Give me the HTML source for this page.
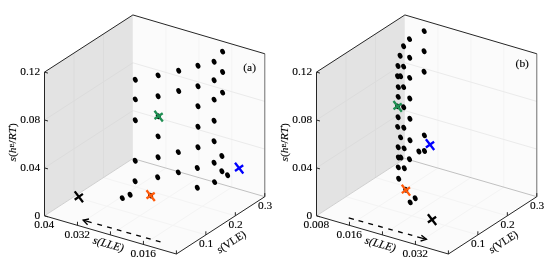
<!DOCTYPE html>
<html><head><meta charset="utf-8"><style>
html,body{margin:0;padding:0;background:#fff;}
svg{display:block;}
text{font-family:"Liberation Serif","Times New Roman",serif;font-size:11.4px;fill:#000;stroke:#000;stroke-width:0.12px;}
</style></head><body>
<svg width="550" height="268" viewBox="0 0 550 268">
<rect width="550" height="268" fill="#fff"/>
<g transform="translate(0,0)">
<polygon points="44.5,215.8 132.9,158.5 132.9,14.95 44.5,72.1" fill="#e3e3e3"/>
<polygon points="132.9,158.5 264.8,196.7 264.8,53.75 132.9,14.95" fill="#fbfbfb"/>
<polygon points="44.5,215.8 176.4,254 264.8,196.7 132.9,158.5" fill="#fbfbfb"/>
<line x1="73.97" y1="196.7" x2="73.97" y2="53.05" stroke="#dcdcdc" stroke-width="1"/>
<line x1="103.43" y1="177.6" x2="103.43" y2="34" stroke="#dcdcdc" stroke-width="1"/>
<line x1="44.5" y1="167.9" x2="132.9" y2="110.65" stroke="#dcdcdc" stroke-width="1"/>
<line x1="44.5" y1="120" x2="132.9" y2="62.8" stroke="#dcdcdc" stroke-width="1"/>
<line x1="165.88" y1="168.05" x2="165.88" y2="24.65" stroke="#f4f4f4" stroke-width="1"/>
<line x1="198.85" y1="177.6" x2="198.85" y2="34.35" stroke="#f4f4f4" stroke-width="1"/>
<line x1="231.83" y1="187.15" x2="231.83" y2="44.05" stroke="#f4f4f4" stroke-width="1"/>
<line x1="132.9" y1="110.65" x2="264.8" y2="149.05" stroke="#ebebeb" stroke-width="1"/>
<line x1="132.9" y1="62.8" x2="264.8" y2="101.4" stroke="#ebebeb" stroke-width="1"/>
<line x1="77.47" y1="225.35" x2="165.88" y2="168.05" stroke="#f4f4f4" stroke-width="1"/>
<line x1="110.45" y1="234.9" x2="198.85" y2="177.6" stroke="#f4f4f4" stroke-width="1"/>
<line x1="143.43" y1="244.45" x2="231.83" y2="187.15" stroke="#f4f4f4" stroke-width="1"/>
<line x1="73.97" y1="196.7" x2="205.87" y2="234.9" stroke="#f4f4f4" stroke-width="1"/>
<line x1="103.43" y1="177.6" x2="235.33" y2="215.8" stroke="#f4f4f4" stroke-width="1"/>
<line x1="44.5" y1="215.8" x2="132.9" y2="158.5" stroke="#d0d0d0" stroke-width="1"/>
<line x1="132.9" y1="158.5" x2="264.8" y2="196.7" stroke="#c0c0c0" stroke-width="1"/>
<line x1="264.8" y1="196.7" x2="264.8" y2="53.75" stroke="#6e6e6e" stroke-width="1"/>
<polyline points="44.5,215.8 44.5,72.1 132.9,14.95 264.8,53.75" fill="none" stroke="#262626" stroke-width="1" stroke-linejoin="miter"/>
<polyline points="44.5,215.8 176.4,254 264.8,196.7" fill="none" stroke="#262626" stroke-width="1"/>
<line x1="44.5" y1="215.8" x2="47.96" y2="216.8" stroke="#262626" stroke-width="1"/>
<line x1="44.5" y1="167.9" x2="47.96" y2="168.9" stroke="#262626" stroke-width="1"/>
<line x1="44.5" y1="120" x2="47.96" y2="121" stroke="#262626" stroke-width="1"/>
<line x1="44.5" y1="72.1" x2="47.96" y2="73.1" stroke="#262626" stroke-width="1"/>
<line x1="77.47" y1="225.35" x2="77.47" y2="221.75" stroke="#262626" stroke-width="1"/>
<line x1="110.45" y1="234.9" x2="110.45" y2="231.3" stroke="#262626" stroke-width="1"/>
<line x1="143.43" y1="244.45" x2="143.43" y2="240.85" stroke="#262626" stroke-width="1"/>
<line x1="176.4" y1="254" x2="176.4" y2="250.4" stroke="#262626" stroke-width="1"/>
<line x1="205.87" y1="234.9" x2="205.87" y2="231.3" stroke="#262626" stroke-width="1"/>
<line x1="235.33" y1="215.8" x2="235.33" y2="212.2" stroke="#262626" stroke-width="1"/>
<line x1="264.8" y1="196.7" x2="264.8" y2="193.1" stroke="#262626" stroke-width="1"/>
<ellipse cx="135.3" cy="79.8" rx="2.3" ry="3.0" transform="rotate(-25 135.3 79.8)" fill="#000"/>
<ellipse cx="158.1" cy="75.4" rx="2.3" ry="3.0" transform="rotate(-25 158.1 75.4)" fill="#000"/>
<ellipse cx="178.7" cy="70.7" rx="2.3" ry="3.0" transform="rotate(-25 178.7 70.7)" fill="#000"/>
<ellipse cx="198" cy="65.7" rx="2.3" ry="3.0" transform="rotate(-25 198 65.7)" fill="#000"/>
<ellipse cx="214.1" cy="61.7" rx="2.3" ry="3.0" transform="rotate(-25 214.1 61.7)" fill="#000"/>
<ellipse cx="222.6" cy="51.6" rx="2.3" ry="3.0" transform="rotate(-25 222.6 51.6)" fill="#000"/>
<ellipse cx="222.6" cy="72" rx="2.3" ry="3.0" transform="rotate(-25 222.6 72)" fill="#000"/>
<ellipse cx="214.1" cy="80.3" rx="2.3" ry="3.0" transform="rotate(-25 214.1 80.3)" fill="#000"/>
<ellipse cx="198" cy="86.3" rx="2.3" ry="3.0" transform="rotate(-25 198 86.3)" fill="#000"/>
<ellipse cx="178.7" cy="91" rx="2.3" ry="3.0" transform="rotate(-25 178.7 91)" fill="#000"/>
<ellipse cx="158.1" cy="96.2" rx="2.3" ry="3.0" transform="rotate(-25 158.1 96.2)" fill="#000"/>
<ellipse cx="135.3" cy="99.4" rx="2.3" ry="3.0" transform="rotate(-25 135.3 99.4)" fill="#000"/>
<ellipse cx="222.6" cy="92.6" rx="2.3" ry="3.0" transform="rotate(-25 222.6 92.6)" fill="#000"/>
<ellipse cx="214.1" cy="99.6" rx="2.3" ry="3.0" transform="rotate(-25 214.1 99.6)" fill="#000"/>
<ellipse cx="198" cy="106.2" rx="2.3" ry="3.0" transform="rotate(-25 198 106.2)" fill="#000"/>
<ellipse cx="135.3" cy="120.3" rx="2.3" ry="3.0" transform="rotate(-25 135.3 120.3)" fill="#000"/>
<ellipse cx="158.3" cy="116.2" rx="2.3" ry="3.0" transform="rotate(-25 158.3 116.2)" fill="#000"/>
<ellipse cx="198" cy="126.8" rx="2.3" ry="3.0" transform="rotate(-25 198 126.8)" fill="#000"/>
<ellipse cx="214.1" cy="120.7" rx="2.3" ry="3.0" transform="rotate(-25 214.1 120.7)" fill="#000"/>
<ellipse cx="158.1" cy="136.4" rx="2.3" ry="3.0" transform="rotate(-25 158.1 136.4)" fill="#000"/>
<ellipse cx="214.1" cy="141.2" rx="2.3" ry="3.0" transform="rotate(-25 214.1 141.2)" fill="#000"/>
<ellipse cx="198" cy="147.2" rx="2.3" ry="3.0" transform="rotate(-25 198 147.2)" fill="#000"/>
<ellipse cx="178.3" cy="152.1" rx="2.3" ry="3.0" transform="rotate(-25 178.3 152.1)" fill="#000"/>
<ellipse cx="221.9" cy="156" rx="2.3" ry="3.0" transform="rotate(-25 221.9 156)" fill="#000"/>
<ellipse cx="158.1" cy="157.2" rx="2.3" ry="3.0" transform="rotate(-25 158.1 157.2)" fill="#000"/>
<ellipse cx="135.2" cy="160.7" rx="2.3" ry="3.0" transform="rotate(-25 135.2 160.7)" fill="#000"/>
<ellipse cx="214.1" cy="162.7" rx="2.3" ry="3.0" transform="rotate(-25 214.1 162.7)" fill="#000"/>
<ellipse cx="197.3" cy="168" rx="2.3" ry="3.0" transform="rotate(-25 197.3 168)" fill="#000"/>
<ellipse cx="178.3" cy="172.4" rx="2.3" ry="3.0" transform="rotate(-25 178.3 172.4)" fill="#000"/>
<ellipse cx="221.9" cy="171.2" rx="2.3" ry="3.0" transform="rotate(-25 221.9 171.2)" fill="#000"/>
<ellipse cx="227.6" cy="175.2" rx="2.3" ry="3.0" transform="rotate(-25 227.6 175.2)" fill="#000"/>
<ellipse cx="157.7" cy="177.3" rx="2.3" ry="3.0" transform="rotate(-25 157.7 177.3)" fill="#000"/>
<ellipse cx="135.1" cy="181.3" rx="2.3" ry="3.0" transform="rotate(-25 135.1 181.3)" fill="#000"/>
<ellipse cx="214.6" cy="182.1" rx="2.3" ry="3.0" transform="rotate(-25 214.6 182.1)" fill="#000"/>
<ellipse cx="197.3" cy="187.7" rx="2.3" ry="3.0" transform="rotate(-25 197.3 187.7)" fill="#000"/>
<ellipse cx="130.1" cy="194.8" rx="2.3" ry="3.0" transform="rotate(-25 130.1 194.8)" fill="#000"/>
<ellipse cx="122.3" cy="198.1" rx="2.3" ry="3.0" transform="rotate(-25 122.3 198.1)" fill="#000"/>
<ellipse cx="150.6" cy="195.6" rx="2.3" ry="3.0" transform="rotate(-25 150.6 195.6)" fill="#000"/>
<path d="M154.5 110.7L162.8 121.5M154.5 119L162.7 113.2" stroke="#1f8e52" stroke-width="2.3" fill="none"/>
<path d="M146.5 190.2L154.8 201M146.5 198.5L154.7 192.7" stroke="#ff5a0a" stroke-width="2.3" fill="none"/>
<path d="M235 162.7L243.3 173.5M235 171L243.2 165.2" stroke="#0000ff" stroke-width="2.3" fill="none"/>
<path d="M74.7 191.4L83 202.2M74.7 199.7L82.9 193.9" stroke="#000000" stroke-width="2.3" fill="none"/>
<g stroke="#000" stroke-width="1.35"><line x1="97.3" y1="224.14" x2="102" y2="225.46"/><line x1="107.1" y1="226.89" x2="111.8" y2="228.21"/><line x1="116.9" y1="229.65" x2="121.4" y2="230.91"/><line x1="126.4" y1="232.32" x2="131.1" y2="233.64"/><line x1="136.2" y1="235.07" x2="140.9" y2="236.39"/><line x1="146" y1="237.82" x2="150.7" y2="239.15"/><line x1="155.8" y1="240.58" x2="160.5" y2="241.9"/><line x1="83.2" y1="220.18" x2="91.6" y2="222.54"/><polyline fill="none" stroke-linejoin="miter" points="89,219 83.2,220.18 87.6,224.7"/></g>
<text x="40.2" y="218.8" text-anchor="end">0</text>
<text x="40.2" y="170.9" text-anchor="end">0.04</text>
<text x="40.2" y="123" text-anchor="end">0.08</text>
<text x="40.2" y="75.1" text-anchor="end">0.12</text>
<text x="44.3" y="228" text-anchor="middle">0.04</text>
<text x="77.27" y="237.55" text-anchor="middle">0.032</text>
<text x="143.23" y="256.65" text-anchor="middle">0.016</text>
<text x="206.17" y="246.9" text-anchor="middle">0.1</text>
<text x="235.63" y="227.8" text-anchor="middle">0.2</text>
<text x="265.1" y="208.7" text-anchor="middle">0.3</text>
<text x="243.3" y="71.4">(a)</text>
<text transform="translate(16.2,161.5) rotate(-90)"><tspan font-style="italic">s</tspan>(<tspan font-style="italic">h</tspan><tspan font-size="6.8" dy="-1.9">E</tspan><tspan dy="1.9">/</tspan><tspan font-style="italic">RT</tspan>)</text>
<text transform="translate(92.3,243.2) rotate(15.8)" font-style="italic">s(LLE)</text>
<text transform="translate(219.4,253.7) rotate(-33)" style="font-size:10.9px"><tspan font-style="italic">s</tspan>(VLE)</text>
</g>
<g transform="translate(272,0)">
<polygon points="44.5,215.8 132.9,158.5 132.9,14.95 44.5,72.1" fill="#e3e3e3"/>
<polygon points="132.9,158.5 264.8,196.7 264.8,53.75 132.9,14.95" fill="#fbfbfb"/>
<polygon points="44.5,215.8 176.4,254 264.8,196.7 132.9,158.5" fill="#fbfbfb"/>
<line x1="73.97" y1="196.7" x2="73.97" y2="53.05" stroke="#dcdcdc" stroke-width="1"/>
<line x1="103.43" y1="177.6" x2="103.43" y2="34" stroke="#dcdcdc" stroke-width="1"/>
<line x1="44.5" y1="167.9" x2="132.9" y2="110.65" stroke="#dcdcdc" stroke-width="1"/>
<line x1="44.5" y1="120" x2="132.9" y2="62.8" stroke="#dcdcdc" stroke-width="1"/>
<line x1="165.88" y1="168.05" x2="165.88" y2="24.65" stroke="#f4f4f4" stroke-width="1"/>
<line x1="198.85" y1="177.6" x2="198.85" y2="34.35" stroke="#f4f4f4" stroke-width="1"/>
<line x1="231.83" y1="187.15" x2="231.83" y2="44.05" stroke="#f4f4f4" stroke-width="1"/>
<line x1="132.9" y1="110.65" x2="264.8" y2="149.05" stroke="#ebebeb" stroke-width="1"/>
<line x1="132.9" y1="62.8" x2="264.8" y2="101.4" stroke="#ebebeb" stroke-width="1"/>
<line x1="77.47" y1="225.35" x2="165.88" y2="168.05" stroke="#f4f4f4" stroke-width="1"/>
<line x1="110.45" y1="234.9" x2="198.85" y2="177.6" stroke="#f4f4f4" stroke-width="1"/>
<line x1="143.43" y1="244.45" x2="231.83" y2="187.15" stroke="#f4f4f4" stroke-width="1"/>
<line x1="73.97" y1="196.7" x2="205.87" y2="234.9" stroke="#f4f4f4" stroke-width="1"/>
<line x1="103.43" y1="177.6" x2="235.33" y2="215.8" stroke="#f4f4f4" stroke-width="1"/>
<line x1="44.5" y1="215.8" x2="132.9" y2="158.5" stroke="#d0d0d0" stroke-width="1"/>
<line x1="132.9" y1="158.5" x2="264.8" y2="196.7" stroke="#c0c0c0" stroke-width="1"/>
<line x1="264.8" y1="196.7" x2="264.8" y2="53.75" stroke="#6e6e6e" stroke-width="1"/>
<polyline points="44.5,215.8 44.5,72.1 132.9,14.95 264.8,53.75" fill="none" stroke="#262626" stroke-width="1" stroke-linejoin="miter"/>
<polyline points="44.5,215.8 176.4,254 264.8,196.7" fill="none" stroke="#262626" stroke-width="1"/>
<line x1="44.5" y1="215.8" x2="47.96" y2="216.8" stroke="#262626" stroke-width="1"/>
<line x1="44.5" y1="167.9" x2="47.96" y2="168.9" stroke="#262626" stroke-width="1"/>
<line x1="44.5" y1="120" x2="47.96" y2="121" stroke="#262626" stroke-width="1"/>
<line x1="44.5" y1="72.1" x2="47.96" y2="73.1" stroke="#262626" stroke-width="1"/>
<line x1="77.47" y1="225.35" x2="77.47" y2="221.75" stroke="#262626" stroke-width="1"/>
<line x1="110.45" y1="234.9" x2="110.45" y2="231.3" stroke="#262626" stroke-width="1"/>
<line x1="143.43" y1="244.45" x2="143.43" y2="240.85" stroke="#262626" stroke-width="1"/>
<line x1="176.4" y1="254" x2="176.4" y2="250.4" stroke="#262626" stroke-width="1"/>
<line x1="205.87" y1="234.9" x2="205.87" y2="231.3" stroke="#262626" stroke-width="1"/>
<line x1="235.33" y1="215.8" x2="235.33" y2="212.2" stroke="#262626" stroke-width="1"/>
<line x1="264.8" y1="196.7" x2="264.8" y2="193.1" stroke="#262626" stroke-width="1"/>
<ellipse cx="152.2" cy="31.1" rx="2.3" ry="3.0" transform="rotate(-25 152.2 31.1)" fill="#000"/>
<ellipse cx="137.5" cy="39.1" rx="2.3" ry="3.0" transform="rotate(-25 137.5 39.1)" fill="#000"/>
<ellipse cx="131.6" cy="46.3" rx="2.3" ry="3.0" transform="rotate(-25 131.6 46.3)" fill="#000"/>
<ellipse cx="152.1" cy="51.3" rx="2.3" ry="3.0" transform="rotate(-25 152.1 51.3)" fill="#000"/>
<ellipse cx="128.1" cy="55.8" rx="2.3" ry="3.0" transform="rotate(-25 128.1 55.8)" fill="#000"/>
<ellipse cx="137.7" cy="57.7" rx="2.3" ry="3.0" transform="rotate(-25 137.7 57.7)" fill="#000"/>
<ellipse cx="126" cy="66" rx="2.3" ry="3.0" transform="rotate(-25 126 66)" fill="#000"/>
<ellipse cx="131.6" cy="66.6" rx="2.3" ry="3.0" transform="rotate(-25 131.6 66.6)" fill="#000"/>
<ellipse cx="152.1" cy="71.8" rx="2.3" ry="3.0" transform="rotate(-25 152.1 71.8)" fill="#000"/>
<ellipse cx="125.6" cy="76.3" rx="2.3" ry="3.0" transform="rotate(-25 125.6 76.3)" fill="#000"/>
<ellipse cx="128.6" cy="76.3" rx="2.3" ry="3.0" transform="rotate(-25 128.6 76.3)" fill="#000"/>
<ellipse cx="137.7" cy="77.9" rx="2.3" ry="3.0" transform="rotate(-25 137.7 77.9)" fill="#000"/>
<ellipse cx="126.3" cy="87.1" rx="2.3" ry="3.0" transform="rotate(-25 126.3 87.1)" fill="#000"/>
<ellipse cx="131.6" cy="87.1" rx="2.3" ry="3.0" transform="rotate(-25 131.6 87.1)" fill="#000"/>
<ellipse cx="126.2" cy="96.9" rx="2.3" ry="3.0" transform="rotate(-25 126.2 96.9)" fill="#000"/>
<ellipse cx="137.8" cy="98.5" rx="2.3" ry="3.0" transform="rotate(-25 137.8 98.5)" fill="#000"/>
<ellipse cx="131.7" cy="107.2" rx="2.3" ry="3.0" transform="rotate(-25 131.7 107.2)" fill="#000"/>
<ellipse cx="125.6" cy="106.4" rx="2.3" ry="3.0" transform="rotate(-25 125.6 106.4)" fill="#000"/>
<ellipse cx="126.1" cy="117.2" rx="2.3" ry="3.0" transform="rotate(-25 126.1 117.2)" fill="#000"/>
<ellipse cx="137.9" cy="118.8" rx="2.3" ry="3.0" transform="rotate(-25 137.9 118.8)" fill="#000"/>
<ellipse cx="125.7" cy="126.9" rx="2.3" ry="3.0" transform="rotate(-25 125.7 126.9)" fill="#000"/>
<ellipse cx="131.8" cy="127.8" rx="2.3" ry="3.0" transform="rotate(-25 131.8 127.8)" fill="#000"/>
<ellipse cx="128.6" cy="137.4" rx="2.3" ry="3.0" transform="rotate(-25 128.6 137.4)" fill="#000"/>
<ellipse cx="138" cy="140.3" rx="2.3" ry="3.0" transform="rotate(-25 138 140.3)" fill="#000"/>
<ellipse cx="152.4" cy="135.4" rx="2.3" ry="3.0" transform="rotate(-25 152.4 135.4)" fill="#000"/>
<ellipse cx="126.2" cy="147.3" rx="2.3" ry="3.0" transform="rotate(-25 126.2 147.3)" fill="#000"/>
<ellipse cx="132.1" cy="148.4" rx="2.3" ry="3.0" transform="rotate(-25 132.1 148.4)" fill="#000"/>
<ellipse cx="146.9" cy="151.5" rx="2.3" ry="3.0" transform="rotate(-25 146.9 151.5)" fill="#000"/>
<ellipse cx="152.5" cy="151" rx="2.3" ry="3.0" transform="rotate(-25 152.5 151)" fill="#000"/>
<ellipse cx="126.4" cy="157.5" rx="2.3" ry="3.0" transform="rotate(-25 126.4 157.5)" fill="#000"/>
<ellipse cx="128.9" cy="157.5" rx="2.3" ry="3.0" transform="rotate(-25 128.9 157.5)" fill="#000"/>
<ellipse cx="137.5" cy="159.2" rx="2.3" ry="3.0" transform="rotate(-25 137.5 159.2)" fill="#000"/>
<ellipse cx="126.3" cy="167.4" rx="2.3" ry="3.0" transform="rotate(-25 126.3 167.4)" fill="#000"/>
<ellipse cx="132.3" cy="168.3" rx="2.3" ry="3.0" transform="rotate(-25 132.3 168.3)" fill="#000"/>
<ellipse cx="126.7" cy="178.7" rx="2.3" ry="3.0" transform="rotate(-25 126.7 178.7)" fill="#000"/>
<ellipse cx="143.2" cy="198.2" rx="2.3" ry="3.0" transform="rotate(-25 143.2 198.2)" fill="#000"/>
<ellipse cx="138.2" cy="202.4" rx="2.3" ry="3.0" transform="rotate(-25 138.2 202.4)" fill="#000"/>
<ellipse cx="133.7" cy="189.8" rx="2.3" ry="3.0" transform="rotate(-25 133.7 189.8)" fill="#000"/>
<path d="M121.5 101L129.8 111.8M121.5 109.3L129.7 103.5" stroke="#1f8e52" stroke-width="2.3" fill="none"/>
<path d="M129.8 184.8L138.1 195.6M129.8 193.1L138 187.3" stroke="#ff5a0a" stroke-width="2.3" fill="none"/>
<path d="M153.9 139.2L162.2 150M153.9 147.5L162.1 141.7" stroke="#0000ff" stroke-width="2.3" fill="none"/>
<path d="M155.9 214.2L164.2 225M155.9 222.5L164.1 216.7" stroke="#000000" stroke-width="2.3" fill="none"/>
<g stroke="#000" stroke-width="1.35"><line x1="76.7" y1="217.88" x2="81.9" y2="219.32"/><line x1="86.5" y1="220.59" x2="91.2" y2="221.88"/><line x1="96.3" y1="223.29" x2="101" y2="224.59"/><line x1="106.1" y1="226" x2="110.8" y2="227.29"/><line x1="116.3" y1="228.81" x2="120.7" y2="230.03"/><line x1="126.1" y1="231.52" x2="130.7" y2="232.79"/><line x1="135.9" y1="234.22" x2="140.3" y2="235.44"/><line x1="154.4" y1="239.33" x2="145.2" y2="236.79"/><polyline fill="none" stroke-linejoin="miter" points="149.4,235.2 154.4,239.33 148.6,241"/></g>
<text x="40.2" y="218.8" text-anchor="end">0</text>
<text x="40.2" y="170.9" text-anchor="end">0.04</text>
<text x="40.2" y="123" text-anchor="end">0.08</text>
<text x="40.2" y="75.1" text-anchor="end">0.12</text>
<text x="44.3" y="228" text-anchor="middle">0.008</text>
<text x="77.27" y="237.55" text-anchor="middle">0.016</text>
<text x="143.23" y="256.65" text-anchor="middle">0.032</text>
<text x="206.17" y="246.9" text-anchor="middle">0.1</text>
<text x="235.63" y="227.8" text-anchor="middle">0.2</text>
<text x="265.1" y="208.7" text-anchor="middle">0.3</text>
<text x="243.6" y="67.3">(b)</text>
<text transform="translate(16.2,161.5) rotate(-90)"><tspan font-style="italic">s</tspan>(<tspan font-style="italic">h</tspan><tspan font-size="6.8" dy="-1.9">E</tspan><tspan dy="1.9">/</tspan><tspan font-style="italic">RT</tspan>)</text>
<text transform="translate(92.3,243.2) rotate(15.8)" font-style="italic">s(LLE)</text>
<text transform="translate(219.4,253.7) rotate(-33)" style="font-size:10.9px"><tspan font-style="italic">s</tspan>(VLE)</text>
</g>
</svg>
</body></html>
